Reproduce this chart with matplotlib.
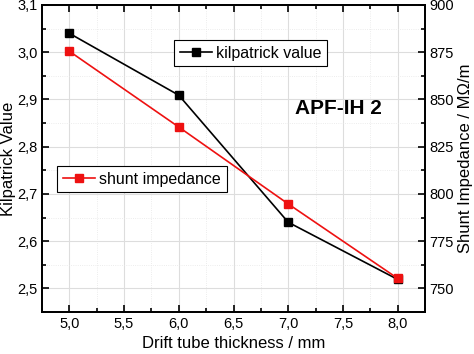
import matplotlib
matplotlib.use('Agg')
import matplotlib.pyplot as plt
from matplotlib.ticker import MultipleLocator, FuncFormatter

plt.rcParams['font.family'] = ['Liberation Sans', 'DejaVu Sans']
plt.rcParams['font.size'] = 10.5

thickness = [5.0, 6.0, 7.0, 8.0]
kilpatrick = [3.04, 2.909, 2.64, 2.519]
shunt = [875.5, 835.4, 794.7, 755.3]

comma = FuncFormatter(lambda v, p: ('%.1f' % v).replace('.', ','))

fig = plt.figure(figsize=(4.74, 3.54), dpi=100)
ax = fig.add_axes([42/474, 1 - 312/354, 383/474, 307/354])
ax2 = ax.twinx()

ax.plot(thickness, kilpatrick, color='black', lw=1.2, marker='s', ms=6,
        label='kilpatrick value', zorder=3)
ax2.plot(thickness, shunt, color='#ee1111', lw=1.2, marker='s', ms=6,
         label='shunt impedance', zorder=3)

ax.set_xlim(4.75, 8.25)
ax.set_ylim(2.45, 3.1)
ax2.set_ylim(737.5, 900)

ax.xaxis.set_major_locator(MultipleLocator(0.5))
ax.xaxis.set_minor_locator(MultipleLocator(0.25))
ax.yaxis.set_major_locator(MultipleLocator(0.1))
ax.yaxis.set_minor_locator(MultipleLocator(0.05))
ax2.yaxis.set_major_locator(MultipleLocator(25))
ax2.yaxis.set_minor_locator(MultipleLocator(12.5))
ax.xaxis.set_major_formatter(comma)
ax.yaxis.set_major_formatter(comma)

ax.grid(which='major', color='#dddddd', lw=0.8)
ax.grid(which='minor', color='#e6e6e6', lw=0.6, ls=':')
ax.set_axisbelow(True)

for a in (ax, ax2):
    for s in a.spines.values():
        s.set_linewidth(1.3)
ax.tick_params(which='both', direction='in', top=True, right=False, width=1.2)
ax.tick_params(which='major', length=5)
ax.tick_params(which='minor', length=3)
ax.tick_params(axis='y', pad=3)
ax2.tick_params(which='both', direction='in', width=1.2, pad=3)
ax2.tick_params(which='major', length=5)
ax2.tick_params(which='minor', length=3)

ax.set_xlabel('Drift tube thickness / mm', fontsize=12)
ax.set_ylabel('Kilpatrick Value', fontsize=12, labelpad=1)
ax2.set_ylabel('Shunt Impedance / M\u03a9/m', fontsize=12, labelpad=3)

ax.text(338/474, 1 - 109/354, 'APF-IH 2', transform=fig.transFigure,
        ha='center', va='center', fontsize=15, fontweight='bold')

leg1 = fig.legend(handles=ax.get_lines(), loc='upper left',
                  bbox_to_anchor=(174/474, 1 - 40/354), frameon=True,
                  fancybox=False, edgecolor='black', framealpha=1,
                  borderpad=0.35, borderaxespad=0, handlelength=2.0,
                  handletextpad=0.3, fontsize=11.5)
leg1.get_frame().set_linewidth(0.8)
leg2 = fig.legend(handles=ax2.get_lines(), loc='upper left',
                  bbox_to_anchor=(57/474, 1 - 166/354), frameon=True,
                  fancybox=False, edgecolor='black', framealpha=1,
                  borderpad=0.35, borderaxespad=0, handlelength=2.0,
                  handletextpad=0.3, fontsize=11.5)
leg2.get_frame().set_linewidth(0.8)

fig.savefig('out.png', dpi=100)
